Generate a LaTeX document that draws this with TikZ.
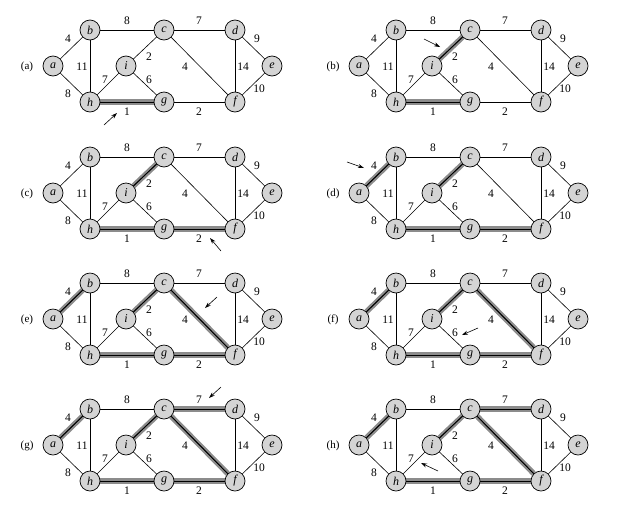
\documentclass[tikz,border=0pt]{standalone}
\usepackage{fontspec}
\setmainfont{Liberation Serif}
\usetikzlibrary{arrows.meta}
\tikzset{
 vtx/.style={circle,draw=black,fill=black!17,line width=0.7pt,minimum size=20pt,inner sep=0pt,font=\fontsize{12}{12}\itshape},
 edge/.style={line width=0.6pt,black},
 hlband/.style={line width=5.5pt,black!45},
 hlcore/.style={line width=0.8pt,black},
 wlab/.style={font=\fontsize{11.5}{12}\selectfont,inner sep=0pt},
 plab/.style={font=\fontsize{11}{12}\selectfont,inner sep=0pt},
 ptr/.style={line width=0.6pt,-{Stealth[length=6pt,width=4pt]}}
}
\newcommand\drawpanel[8]{% name, xoff, yoff, label, highlights, tailx,taily, head
\begin{scope}[shift={(#2,#3)}]
\node[plab] at (27,67) {(#4)};
\node[vtx] (#1a) at (53,66) {a};
\node[vtx] (#1b) at (90,30) {b};
\node[vtx] (#1c) at (164,30) {c};
\node[vtx] (#1d) at (235,30) {d};
\node[vtx] (#1e) at (272,66) {e};
\node[vtx] (#1i) at (126,66) {i};
\node[vtx] (#1h) at (90,102) {h};
\node[vtx] (#1g) at (164,102) {g};
\node[vtx] (#1f) at (235,102) {f};
\begin{pgfonlayer}{background}
\foreach \u/\v in {#5}{\draw[hlband] (#1\u)--(#1\v); \draw[hlcore] (#1\u)--(#1\v);}
\foreach \u/\v in {a/b,b/c,c/d,d/e,a/h,b/h,h/i,i/c,i/g,h/g,g/f,c/f,d/f,e/f}{\draw[edge] (#1\u)--(#1\v);}
\end{pgfonlayer}
\node[wlab] at (68,39) {4};
\node[wlab] at (127,21) {8};
\node[wlab] at (199,21) {7};
\node[wlab] at (257,39) {9};
\node[wlab] at (82,67) {11};
\node[wlab] at (149,57) {2};
\node[wlab] at (185,67) {4};
\node[wlab] at (243,67) {14};
\node[wlab] at (105,80) {7};
\node[wlab] at (149,80) {6};
\node[wlab] at (259,89) {10};
\node[wlab] at (68,94) {8};
\node[wlab] at (127,112) {1};
\node[wlab] at (199,112) {2};
\coordinate (#1tail) at (#6,#7);
\coordinate (#1head) at #8;
\draw[ptr] (#1tail)--(#1head);
\end{scope}}
\pgfdeclarelayer{background}
\pgfsetlayers{background,main}
\begin{document}
\begin{tikzpicture}[x=1pt,y=-1pt]
\useasboundingbox (0,0) rectangle (631,509);
\drawpanel{A}{0}{0}{a}{h/g}{104}{125}{(117,113)}
\drawpanel{B}{306}{0}{b}{h/g,i/c}{118}{39}{(134,47)}
\drawpanel{C}{0}{127}{c}{h/g,i/c,g/f}{221}{124}{(210,111)}
\drawpanel{D}{306}{127}{d}{h/g,i/c,g/f,a/b}{41}{35}{(58,41)}
\drawpanel{E}{0}{253}{e}{h/g,i/c,g/f,a/b,c/f}{217}{44}{(205,55)}
\drawpanel{F}{306}{253}{f}{h/g,i/c,g/f,a/b,c/f}{172}{75}{(156,82)}
\drawpanel{G}{0}{379}{g}{h/g,i/c,g/f,a/b,c/f,c/d}{221}{8}{(209,19)}
\drawpanel{H}{306}{379}{h}{h/g,i/c,g/f,a/b,c/f,c/d}{132}{92}{(115,84)}
\end{tikzpicture}
\end{document}
